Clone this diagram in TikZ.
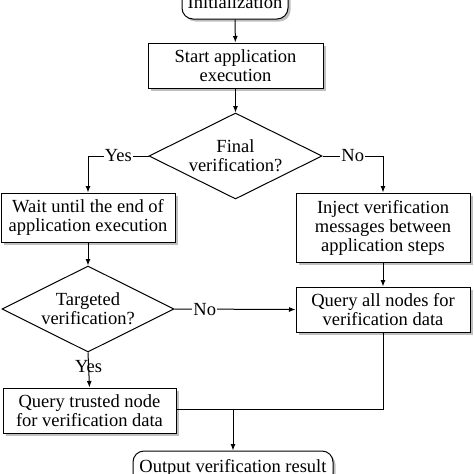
\documentclass[tikz,border=0pt]{standalone}
\usepackage{fontspec}
\setmainfont{Liberation Serif}
\usetikzlibrary{arrows.meta,shadows,shapes.geometric}
\begin{document}
\begin{tikzpicture}[x=1pt,y=-1pt,
  every node/.style={font=\fontsize{18.5}{19}\selectfont},
  procbox/.style={draw=black, line width=1pt, fill=white, align=center,
    drop shadow={shadow xshift=2.5pt, shadow yshift=-2.5pt, fill=black!25, opacity=1},
    inner sep=0pt},
  termbox/.style={procbox, rounded corners=11pt},
  diam/.style={draw=black, line width=1pt, shape=diamond, inner sep=0pt},
  lbl/.style={align=center, inner sep=0pt},
  conn/.style={line width=1pt, draw=black},
  arr/.style={conn, -{Latex[length=6.5pt,width=5pt]}},
  tag/.style={fill=white, inner sep=1pt}
]
\useasboundingbox (0,0) rectangle (474,474);
\clip (0,0) rectangle (474,474);

\node[termbox, minimum width=106pt, minimum height=34pt] (init) at (235,2) {Initialization};
\node[procbox, minimum width=175pt, minimum height=45pt] (start) at (235.5,65.5) {Start application\\execution};
\node[diam, minimum width=173pt, minimum height=86pt] (fin) at (235.5,156) {};
\node[lbl] (finT) at (fin) {Final\\verification?};
\node[procbox, minimum width=174pt, minimum height=49pt] (wait) at (88,217.5) {Wait until the end of\\application execution};
\node[procbox, minimum width=174pt, minimum height=69pt] (inject) at (383,227.5) {Inject verification\\messages between\\application steps};
\node[diam, minimum width=172pt, minimum height=86pt] (tgt) at (88,309) {};
\node[lbl] (tgtT) at (tgt) {Targeted\\verification?};
\node[procbox, minimum width=174pt, minimum height=45pt] (qall) at (383,309.5) {Query all nodes for\\verification data};
\node[procbox, minimum width=173pt, minimum height=45pt] (qtr) at (89.5,410.5) {Query trusted node\\for verification data};
\node[termbox, minimum width=200pt, minimum height=34pt] (out) at (233,468) {Output verification result};

\coordinate (jL) at (qtr.east |- 0,409);
\coordinate (jM) at (233,409);

\draw[arr] (init) -- (start);
\draw[arr] (start) -- (fin.north);
\draw[arr] (fin.west) -| node[tag, pos=0.25] {Yes} (wait.north);
\draw[arr] (fin.east) -| node[tag, pos=0.25] {No} (inject.north);
\draw[arr] (wait) -- (tgt.north);
\draw[arr] (inject) -- (qall);
\draw[arr] (tgt.east) -- node[tag, pos=0.25] {No} (qall.west);
\draw[arr] (tgt.south) -- node[inner sep=0pt, pos=0.4] {Yes} (qtr.north);
\draw[conn] (qall.south) |- (jL);
\draw[arr] (jM) -- (out.north);
\end{tikzpicture}
\end{document}
